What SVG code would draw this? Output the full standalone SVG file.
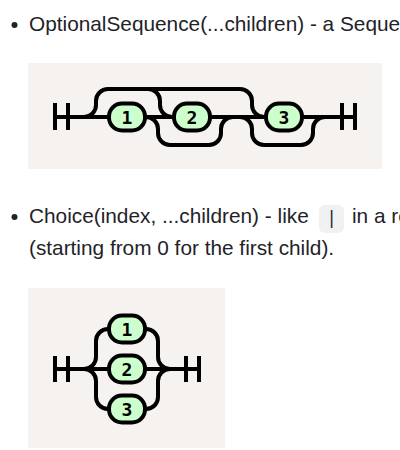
<svg xmlns="http://www.w3.org/2000/svg" width="400" height="450" viewBox="0 0 400 450">
<style>
.txt{font-family:"Liberation Sans",Arial,sans-serif;font-size:20.8px;fill:#1f2328}
.bg{fill:#f5f2f0}
.wire{fill:none;stroke:#000;stroke-width:4}
.term rect{fill:#ccffcc;stroke:#000;stroke-width:4}
.term text{font-family:"DejaVu Sans Mono",monospace;font-weight:bold;font-size:18px;text-anchor:middle;fill:#000}
.code{fill:#eff1f3}
.codet{font-family:"DejaVu Sans Mono","Liberation Mono",monospace;font-size:17px;fill:#1f2328;text-anchor:middle}
</style>
<rect width="400" height="450" fill="#ffffff"/>
<circle cx="14.5" cy="25" r="3" fill="#1f2328"/>
<text class="txt" x="29" y="31">OptionalSequence(...children) - a Seque</text>
<circle cx="14.5" cy="217" r="3" fill="#1f2328"/>
<text class="txt" x="29" y="223">Choice(index, ...children) - like</text>
<rect class="code" x="319" y="205" width="25" height="28" rx="6"/>
<text class="codet" x="331.5" y="224">|</text>
<text class="txt" x="352" y="223">in a re</text>
<text class="txt" x="29" y="254.5">(starting from 0 for the first child).</text>

<g id="optseq">
<rect class="bg" x="28" y="63" width="354" height="106"/>
<g id="optseq-connectors">
<path class="wire" d="M55 103v27M68 103v27M55 117H109"/>
<path class="wire" d="M84 117a12 12 0 0 0 12-12v-4a12 12 0 0 1 12-12H240a12 12 0 0 1 12 12v4a12 12 0 0 0 12 12"/>
<path class="wire" d="M148 89a12 12 0 0 1 12 12v4a12 12 0 0 0 12 12"/>
<path class="wire" d="M145 117H174M210 117H266M302 117H355M342 103v27M355 103v27"/>
<path class="wire" d="M146 117a12 12 0 0 1 12 12v4a12 12 0 0 0 12 12H209a12 12 0 0 0 12-12v-4a12 12 0 0 1 12-12"/>
<path class="wire" d="M240 117a12 12 0 0 1 12 12v4a12 12 0 0 0 12 12H301a12 12 0 0 0 12-12v-4a12 12 0 0 1 12-12"/>
</g>
<g id="os-n1" class="term"><rect x="109" y="103.5" width="36" height="27" rx="13"/><text x="127" y="123.5">1</text></g>
<g id="os-n2" class="term"><rect x="174" y="103.5" width="36" height="27" rx="13"/><text x="192" y="123.5">2</text></g>
<g id="os-n3" class="term"><rect x="266" y="103.5" width="36" height="27" rx="13"/><text x="284" y="123.5">3</text></g>
</g>

<g id="choice">
<rect class="bg" x="28" y="288" width="197" height="160"/>
<g id="choice-connectors">
<path class="wire" d="M55 356v26M68 356v26M55 369H109M145 369H199M186 356v26M199 356v26"/>
<path class="wire" d="M84 369a12 12 0 0 0 12-12v-16a12 12 0 0 1 12-12"/>
<path class="wire" d="M84 369a12 12 0 0 1 12 12v16a12 12 0 0 0 12 12"/>
<path class="wire" d="M146 329a12 12 0 0 1 12 12v16a12 12 0 0 0 12 12"/>
<path class="wire" d="M146 409a12 12 0 0 0 12-12v-16a12 12 0 0 1 12-12"/>
</g>
<g id="ch-n1" class="term"><rect x="109" y="315.5" width="36" height="27" rx="13"/><text x="127" y="335.5">1</text></g>
<g id="ch-n2" class="term"><rect x="109" y="355.5" width="36" height="27" rx="13"/><text x="127" y="375.5">2</text></g>
<g id="ch-n3" class="term"><rect x="109" y="395.5" width="36" height="27" rx="13"/><text x="127" y="415.5">3</text></g>
</g>
</svg>
